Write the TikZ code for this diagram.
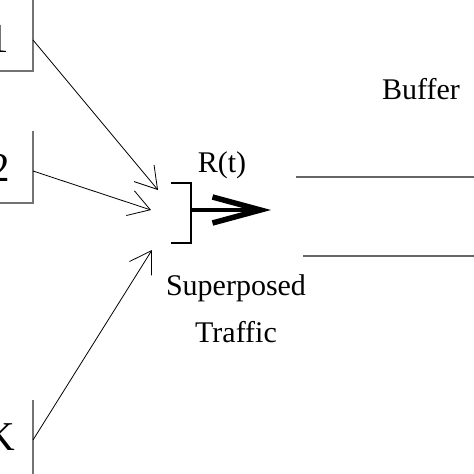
\documentclass[tikz,border=0pt]{standalone}
\usepackage{fontspec}
\setmainfont{Liberation Serif}
\usetikzlibrary{arrows.meta}
\begin{document}
\begin{tikzpicture}[x=1pt,y=-1pt,
  boxline/.style={draw=black!55,line width=1.4pt},
  feed/.style={draw=black,line width=0.8pt,-{Straight Barb[length=21pt,width=26pt,line width=0.8pt]}},
  bufline/.style={draw=black!60,line width=1.3pt},
  lbl/.style={inner sep=0pt,font=\fontsize{30}{36}\selectfont},
  biglbl/.style={inner sep=0pt,anchor=base west,font=\fontsize{41}{48}\selectfont}]
\useasboundingbox (0,0) rectangle (474,474);
\clip (0,0) rectangle (474,474);
% source boxes (partly visible)
\draw[boxline] (33,0) -- (33,71) -- (-5,71);
\draw[boxline] (33,131) -- (33,203) -- (-5,203);
\draw[boxline] (33,400) -- (33,480);
\node[biglbl] (l1) at (-12,52) {1};
\node[biglbl] (l2) at (-11,181) {2};
\node[biglbl] (lK) at (-15,450) {K};
% connector endpoints
\coordinate (s1) at (33,40);
\coordinate (s2) at (33,171);
\coordinate (sK) at (33,440);
\coordinate (t1) at (158,190);
\coordinate (t2) at (151,210);
\coordinate (tK) at (152,250);
\draw[feed] (s1) -- (t1);
\draw[feed] (s2) -- (t2);
\draw[feed] (sK) -- (tK);
% bracket
\coordinate (bt) at (171,183);
\coordinate (bb) at (171,243);
\coordinate (bm) at (191,210);
\draw[line width=2.5pt] (bt) -- (191,183) -- (191,243) -- (bb);
\coordinate (out) at (271,210);
\draw[line width=4.5pt,-{Straight Barb[length=48pt,width=26pt,line width=5.5pt]}] (bm) -- (out);
\node[lbl,anchor=base] (rt) at (222,172) {R(t)};
\node[lbl,anchor=base] (sp) at (236,295) {Superposed};
\node[lbl,anchor=base] (tr) at (236,342) {Traffic};
% buffer
\coordinate (b1a) at (296,177);
\coordinate (b1b) at (480,177);
\coordinate (b2a) at (303,256);
\coordinate (b2b) at (480,256);
\draw[bufline] (b1a) -- (b1b);
\draw[bufline] (b2a) -- (b2b);
\node[lbl,anchor=base] (buf) at (421,99) {Buffer};
\end{tikzpicture}
\end{document}
